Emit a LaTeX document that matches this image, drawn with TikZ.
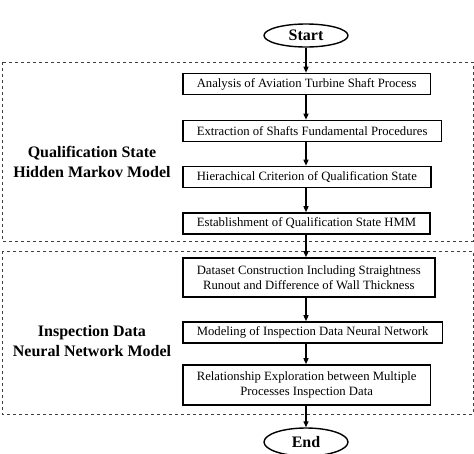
\documentclass[tikz,border=0pt]{standalone}
\usepackage{fontspec}
\setmainfont{Liberation Serif}
\usetikzlibrary{arrows.meta, positioning, shapes.geometric}

\begin{document}
\begin{tikzpicture}[x=1pt, y=-1pt,
        terminal/.style={ellipse, draw=black, line width=1.4pt, minimum width=84pt, minimum height=23pt, inner sep=0pt, font=\bfseries\fontsize{16}{18}\selectfont},
        stepbox/.style={rectangle, draw=black, line width=1.6pt, anchor=west, minimum height=21pt, inner xsep=14pt, align=center, font=\fontsize{12.7}{15.5}\selectfont},
        modelpart/.style={rectangle, draw=black!75, dashed, line width=0.8pt},
        modellabel/.style={align=center, font=\bfseries\fontsize{16}{19.5}\selectfont},
        flow/.style={-{Triangle[length=6pt, width=5pt]}, line width=1.3pt, black}
    ]
    \useasboundingbox (0,0) rectangle (474,453);

    % the two model stages
    \draw[modelpart] (2,62) rectangle (473,241);
    \draw[modelpart] (2,251) rectangle (473,414);
    \node[modellabel] (hmm) at (92,162) {Qualification State\\Hidden Markov Model};
    \node[modellabel] (nn) at (92,341) {Inspection Data\\Neural Network Model};

    \node[terminal] (start) at (306,35.5) {Start};

    \node[stepbox] (s1) at (182,84) {Analysis of Aviation Turbine Shaft Process};
    \node[stepbox] (s2) at (182,131) {Extraction of Shafts Fundamental Procedures};
    \node[stepbox] (s3) at (182,177) {Hierachical Criterion of Qualification State};
    \node[stepbox] (s4) at (182,223.5) {Establishment of Qualification State HMM};

    \node[stepbox, minimum height=39pt] (s5) at (182,277.5) {Dataset Construction Including Straightness\\Runout and Difference of Wall Thickness};
    \node[stepbox] (s6) at (182,332.5) {Modeling of Inspection Data Neural Network};
    \node[stepbox, minimum height=40pt] (s7) at (182,385) {Relationship Exploration between Multiple\\Processes Inspection Data};

    \node[terminal, minimum height=28pt] (end) at (306,442) {End};

    \draw[flow] (start) -- (s1.north -| start);
    \draw[flow] (s1.south -| start) -- (s2.north -| start);
    \draw[flow] (s2.south -| start) -- (s3.north -| start);
    \draw[flow] (s3.south -| start) -- (s4.north -| start);
    \draw[flow] (s4.south -| start) -- (s5.north -| start);
    \draw[flow] (s5.south -| start) -- (s6.north -| start);
    \draw[flow] (s6.south -| start) -- (s7.north -| start);
    \draw[flow] (s7.south -| start) -- (end);
\end{tikzpicture}
\end{document}
